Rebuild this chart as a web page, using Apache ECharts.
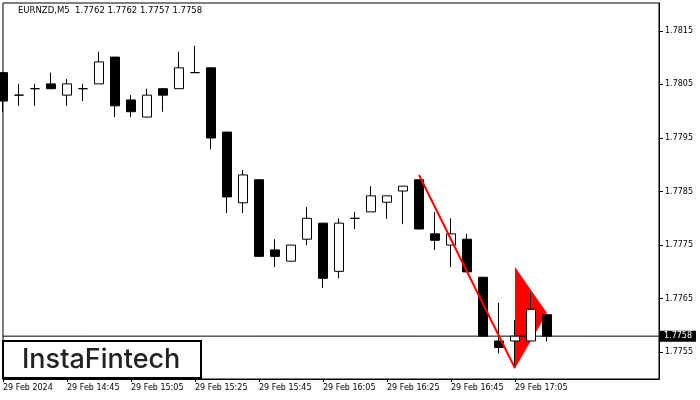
<!DOCTYPE html>
<html><head><meta charset="utf-8">
<script src="https://cdn.jsdelivr.net/npm/echarts@6/dist/echarts.min.js"></script>
<style>html,body{margin:0;padding:0;background:#fff}#c{width:700px;height:400px}</style>
</head><body><div id="c"></div>
<script>
const symbol = "EURNZD,M5";
const times = ["14:25","14:30","14:35","14:40","14:45","14:50","14:55","15:00","15:05","15:10","15:15","15:20","15:25","15:30","15:35","15:40","15:45","15:50","15:55","16:00","16:05","16:10","16:15","16:20","16:25","16:30","16:35","16:40","16:45","16:50","16:55","17:00","17:05","17:10","17:15"];
const padSlots = ["17:20","17:25","17:30","17:35","17:40","17:45","17:50"];
const opens  = [1.78072,1.78030,1.78042,1.78051,1.78030,1.78042,1.78051,1.78101,1.78021,1.77989,1.78042,1.78042,1.78072,1.78081,1.77961,1.77829,1.77872,1.77741,1.77720,1.77761,1.77791,1.77701,1.77800,1.77812,1.77830,1.77851,1.77872,1.77771,1.77750,1.77761,1.77690,1.77571,1.77571,1.77571,1.7762];
const closes = [1.78019,1.78030,1.78042,1.78042,1.78051,1.78042,1.78092,1.78010,1.77999,1.78030,1.78030,1.78081,1.78072,1.77950,1.77840,1.77881,1.77729,1.77729,1.77750,1.77800,1.77688,1.77791,1.77800,1.77842,1.77842,1.77860,1.77780,1.77759,1.77771,1.77700,1.7758,1.77559,1.7758,1.77630,1.7758];
const lows   = [1.77999,1.78010,1.78010,1.78042,1.78010,1.78019,1.78051,1.77989,1.77989,1.77989,1.77999,1.78042,1.78072,1.77929,1.77810,1.77810,1.77729,1.77709,1.77720,1.77750,1.77670,1.77688,1.77780,1.77812,1.77799,1.77789,1.77780,1.77741,1.77709,1.77700,1.7758,1.77548,1.77522,1.77571,1.7757];
const highs  = [1.78072,1.78051,1.78051,1.78072,1.78060,1.78051,1.78111,1.78101,1.78030,1.78042,1.78042,1.78111,1.78122,1.78081,1.77961,1.77890,1.77872,1.77761,1.77750,1.77821,1.77791,1.77800,1.77812,1.77860,1.77842,1.77860,1.77872,1.77812,1.77800,1.77771,1.77690,1.77642,1.77610,1.77662,1.7762];
const xTickIndex = [0,4,8,12,16,20,24,28,32];
const xTickLabels = ["29 Feb 2024","29 Feb 14:45","29 Feb 15:05","29 Feb 15:25","29 Feb 15:45","29 Feb 16:05","29 Feb 16:25","29 Feb 16:45","29 Feb 17:05"];
const yTicks = [1.7755,1.7765,1.7775,1.7785,1.7795,1.7805,1.7815];
const yMin = 1.7750, yMax = 1.78202;
const lastPrice = 1.7758;
const poleLine = [["16:35",1.77881],["17:05",1.7752]];
const flagTriangle = [["17:05",1.77709],["17:15",1.77623],["17:05",1.7752]];

const FONT = 'DejaVu Sans';
const cats = times.concat(padSlots);
const candleData = times.map((t,i)=>[opens[i],closes[i],lows[i],highs[i]]);
const n = times.length - 1;
const titleText = symbol + '  ' + [opens[n],highs[n],lows[n],closes[n]].map(v=>v.toFixed(4)).join(' ');

const chart = echarts.init(document.getElementById('c'), null, {renderer:'canvas'});
chart.setOption({
  animation:false,
  backgroundColor:'#fff',
  grid:{left:2, top:3, right:41, bottom:21, show:true, borderColor:'#000', borderWidth:1, backgroundColor:'#fff'},
  xAxis:{type:'category', data:cats, boundaryGap:false,
    axisLine:{show:true, lineStyle:{color:'#000', width:1}},
    axisTick:{show:true, interval:(i)=>xTickIndex.includes(i), length:3, lineStyle:{color:'#000'}},
    axisLabel:{interval:(i)=>xTickIndex.includes(i), formatter:(v,i)=>{const k=xTickIndex.indexOf(i);return k>=0?xTickLabels[k]:'';},
      align:'left', color:'#000', fontFamily:FONT, fontSize:8, margin:5, hideOverlap:false},
    splitLine:{show:false}},
  yAxis:{type:'value', position:'right', min:yMin, max:yMax, scale:true,
    axisLine:{show:true, lineStyle:{color:'#000', width:1}},
    axisTick:{show:true, customValues:yTicks, length:4, lineStyle:{color:'#000'}},
    axisLabel:{customValues:yTicks, formatter:(v)=>v.toFixed(4), color:'#000', fontFamily:FONT, fontSize:8, margin:6},
    splitLine:{show:false}},
  series:[
    {type:'custom', z:1, clip:false, data:[[0]],
      renderItem:(params, api)=>{
        const pts = flagTriangle.map(p=>api.coord([cats.indexOf(p[0]), p[1]]));
        return {type:'polygon', shape:{points:pts}, style:{fill:'#ff0000'}};
      },
      silent:true},
    {type:'line', z:1, data:[[0,lastPrice],[cats.length-1,lastPrice]], symbol:'none', silent:true, clip:false,
      lineStyle:{color:'#000', width:1},
      endLabel:{show:true, distance:1, formatter:lastPrice.toFixed(4), color:'#fff', backgroundColor:'#000',
          padding:[1,4,1,4], fontFamily:FONT, fontSize:8, lineHeight:9}},
    {type:'candlestick', z:2, data:candleData, barWidth:10,
      itemStyle:{color:'#fff', color0:'#000', borderColor:'#000', borderColor0:'#000', borderWidth:1}},
    {type:'line', z:3, data:poleLine.map(p=>[cats.indexOf(p[0]), p[1]]), symbol:'none',
      lineStyle:{color:'#ff0000', width:2}, silent:true}
  ],
  graphic:[
    {type:'text', left:18, top:6, z:100, style:{text:titleText, fill:'#000', font:'8.5px "DejaVu Sans"'}},
    {type:'rect', z:100, shape:{x:3, y:341, width:198, height:37}, style:{fill:'#fff', stroke:'#000', lineWidth:2}},
    {type:'text', z:101, x:22, y:360, style:{text:'InstaFintech', fill:'#222', font:'500 27px Inter', verticalAlign:'middle'}}
  ]
});
</script>
</body></html>
